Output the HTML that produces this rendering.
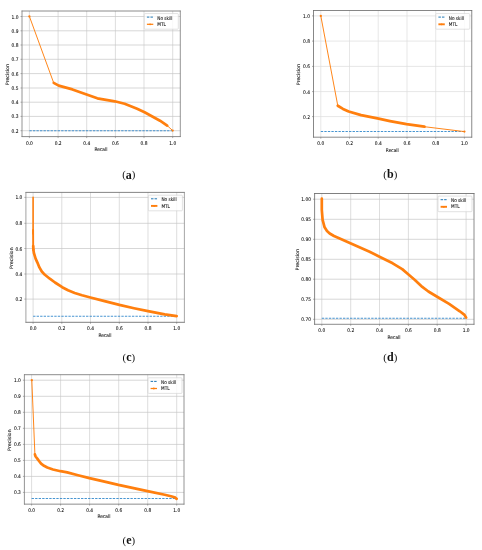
<!DOCTYPE html>
<html><head><meta charset="utf-8"><title>Precision-Recall curves</title>
<style>html,body{margin:0;padding:0;background:#fff}body{width:482px;height:550px;overflow:hidden}</style></head>
<body>
<svg width="482" height="550" viewBox="0 0 482 550" style="display:block">
<rect width="482" height="550" fill="#fff"/>
<g font-family="DejaVu Sans, Liberation Sans, sans-serif" font-size="4.55" fill="#1a1a1a" stroke="#1a1a1a" stroke-width="0.1">
<path d="M29.4 11.0V136.6M58.1 11.0V136.6M86.7 11.0V136.6M115.4 11.0V136.6M144.0 11.0V136.6M172.7 11.0V136.6" stroke="#d0d0d0" stroke-width="0.7" fill="none"/>
<path d="M22.0 16.5H180.3M22.0 30.8H180.3M22.0 45.0H180.3M22.0 59.3H180.3M22.0 73.6H180.3M22.0 88.0H180.3M22.0 102.2H180.3M22.0 116.4H180.3M22.0 130.7H180.3" stroke="#c6c6c6" stroke-width="0.7" fill="none"/>
<path d="M29.4 130.7H172.7" stroke="#2d86cb" stroke-width="1.05" stroke-opacity="0.88" stroke-dasharray="2.35 1.18" fill="none"/>
<polyline points="29.4,16.4 53.7,82.9" stroke="#ff7f0e" stroke-width="0.95" fill="none"/>
<polyline points="167.2,125.6 172.7,130.6" stroke="#ff7f0e" stroke-width="0.95" fill="none"/>
<polyline points="53.7,82.9 58.7,85.6 72.4,89.4 86.6,94.4 97.3,98.3 114.7,101.3 124.6,103.8 137.1,108.8 144.6,112.3 160.0,120.7 167.2,125.6" stroke="#ff7f0e" stroke-width="2.7" stroke-linejoin="round" stroke-linecap="round" fill="none"/>
<circle cx="29.4" cy="16.4" r="1.15" fill="#ff7f0e" stroke="none"/>
<circle cx="172.7" cy="130.6" r="1.15" fill="#ff7f0e" stroke="none"/>
<path d="M29.4 136.6v1.5M58.1 136.6v1.5M86.7 136.6v1.5M115.4 136.6v1.5M144.0 136.6v1.5M172.7 136.6v1.5M22.0 16.5h-1.5M22.0 30.8h-1.5M22.0 45.0h-1.5M22.0 59.3h-1.5M22.0 73.6h-1.5M22.0 88.0h-1.5M22.0 102.2h-1.5M22.0 116.4h-1.5M22.0 130.7h-1.5" stroke="#7a7a7a" stroke-width="0.6" fill="none"/>
<path d="M21.60 11.00H180.70" stroke="#6e6e6e" stroke-width="0.8" fill="none"/>
<path d="M21.60 136.60H180.70" stroke="#6e6e6e" stroke-width="0.8" fill="none"/>
<path d="M22.00 10.60V137.00" stroke="#7a7a7a" stroke-width="0.8" fill="none"/>
<path d="M180.30 10.60V137.00" stroke="#7a7a7a" stroke-width="0.8" fill="none"/>
<text transform="translate(29.4 144.5) scale(0.96 1.09)" text-anchor="middle">0.0</text>
<text transform="translate(58.1 144.5) scale(0.96 1.09)" text-anchor="middle">0.2</text>
<text transform="translate(86.7 144.5) scale(0.96 1.09)" text-anchor="middle">0.4</text>
<text transform="translate(115.4 144.5) scale(0.96 1.09)" text-anchor="middle">0.6</text>
<text transform="translate(144.0 144.5) scale(0.96 1.09)" text-anchor="middle">0.8</text>
<text transform="translate(172.7 144.5) scale(0.96 1.09)" text-anchor="middle">1.0</text>
<text transform="translate(18.4 18.5) scale(0.96 1.09)" text-anchor="end">1.0</text>
<text transform="translate(18.4 32.8) scale(0.96 1.09)" text-anchor="end">0.9</text>
<text transform="translate(18.4 47.0) scale(0.96 1.09)" text-anchor="end">0.8</text>
<text transform="translate(18.4 61.3) scale(0.96 1.09)" text-anchor="end">0.7</text>
<text transform="translate(18.4 75.6) scale(0.96 1.09)" text-anchor="end">0.6</text>
<text transform="translate(18.4 90.0) scale(0.96 1.09)" text-anchor="end">0.5</text>
<text transform="translate(18.4 104.2) scale(0.96 1.09)" text-anchor="end">0.4</text>
<text transform="translate(18.4 118.4) scale(0.96 1.09)" text-anchor="end">0.3</text>
<text transform="translate(18.4 132.7) scale(0.96 1.09)" text-anchor="end">0.2</text>
<text transform="translate(100.9 150.9) scale(0.96 1.09)" text-anchor="middle">Recall</text>
<text transform="translate(8.8 74.6) rotate(-90) scale(1.06 1.0)" text-anchor="middle">Precision</text>
<rect x="144.3" y="13.6" width="34" height="15.6" rx="0.8" fill="#fff" fill-opacity="0.8" stroke="#cfcfcf" stroke-width="0.6"/>
<path d="M146.9 17.1h6.4" stroke="#1f77b4" stroke-width="1" stroke-dasharray="2.5 1.05"/>
<path d="M146.9 24.3h6.4" stroke="#ff7f0e" stroke-width="1.25"/>
<circle cx="150.1" cy="24.3" r="0.9" fill="#ff7f0e" stroke="none"/>
<text transform="translate(157.3 19.6) scale(0.93 1.09)">No skill</text>
<text transform="translate(157.3 25.9) scale(0.93 1.09)">MTL</text>
</g>
<text x="128.8" y="178.6" text-anchor="middle" font-family="Liberation Serif, DejaVu Serif, serif" font-weight="bold" font-size="12" fill="#111"><tspan font-weight="normal" font-size="10.8" dy="-0.4">(</tspan><tspan dy="0.4">a</tspan><tspan font-weight="normal" font-size="10.8" dy="-0.4">)</tspan></text>
<g font-family="DejaVu Sans, Liberation Sans, sans-serif" font-size="4.55" fill="#1a1a1a" stroke="#1a1a1a" stroke-width="0.1">
<path d="M320.8 10.5V137.2M349.5 10.5V137.2M378.2 10.5V137.2M407.0 10.5V137.2M435.7 10.5V137.2M464.4 10.5V137.2" stroke="#dddddd" stroke-width="0.7" fill="none"/>
<path d="M313.5 15.9H471.8M313.5 41.1H471.8M313.5 66.4H471.8M313.5 91.6H471.8M313.5 116.6H471.8" stroke="#dddddd" stroke-width="0.7" fill="none"/>
<path d="M320.8 131.4H464.4" stroke="#2d86cb" stroke-width="1.05" stroke-opacity="0.88" stroke-dasharray="2.35 1.18" fill="none"/>
<polyline points="320.8,15.9 337.8,105.8" stroke="#ff7f0e" stroke-width="0.95" fill="none"/>
<polyline points="424.4,126.7 464.4,131.6" stroke="#ff7f0e" stroke-width="0.95" fill="none"/>
<polyline points="337.8,105.8 343.0,108.9 348.7,111.5 361.1,115.2 378.6,118.7 390.0,121.1 406.5,124.2 424.4,126.7" stroke="#ff7f0e" stroke-width="2.8" stroke-linejoin="round" stroke-linecap="round" fill="none"/>
<circle cx="320.8" cy="15.9" r="1.15" fill="#ff7f0e" stroke="none"/>
<circle cx="464.4" cy="131.6" r="1.15" fill="#ff7f0e" stroke="none"/>
<path d="M320.8 137.2v1.5M349.5 137.2v1.5M378.2 137.2v1.5M407.0 137.2v1.5M435.7 137.2v1.5M464.4 137.2v1.5M313.5 15.9h-1.5M313.5 41.1h-1.5M313.5 66.4h-1.5M313.5 91.6h-1.5M313.5 116.6h-1.5" stroke="#7a7a7a" stroke-width="0.6" fill="none"/>
<path d="M313.10 10.50H472.15" stroke="#686868" stroke-width="0.8" fill="none"/>
<path d="M313.10 137.20H472.15" stroke="#6e6e6e" stroke-width="0.8" fill="none"/>
<path d="M313.50 10.10V137.60" stroke="#686868" stroke-width="0.8" fill="none"/>
<path d="M471.75 10.10V137.60" stroke="#6a6a6a" stroke-width="0.8" fill="none"/>
<text transform="translate(320.8 145.1) scale(0.96 1.09)" text-anchor="middle">0.0</text>
<text transform="translate(349.5 145.1) scale(0.96 1.09)" text-anchor="middle">0.2</text>
<text transform="translate(378.2 145.1) scale(0.96 1.09)" text-anchor="middle">0.4</text>
<text transform="translate(407.0 145.1) scale(0.96 1.09)" text-anchor="middle">0.6</text>
<text transform="translate(435.7 145.1) scale(0.96 1.09)" text-anchor="middle">0.8</text>
<text transform="translate(464.4 145.1) scale(0.96 1.09)" text-anchor="middle">1.0</text>
<text transform="translate(309.9 17.9) scale(0.96 1.09)" text-anchor="end">1.0</text>
<text transform="translate(309.9 43.1) scale(0.96 1.09)" text-anchor="end">0.8</text>
<text transform="translate(309.9 68.4) scale(0.96 1.09)" text-anchor="end">0.6</text>
<text transform="translate(309.9 93.6) scale(0.96 1.09)" text-anchor="end">0.4</text>
<text transform="translate(309.9 118.6) scale(0.96 1.09)" text-anchor="end">0.2</text>
<text transform="translate(392.3 151.5) scale(0.96 1.09)" text-anchor="middle">Recall</text>
<text transform="translate(300.3 74.6) rotate(-90) scale(1.06 1.0)" text-anchor="middle">Precision</text>
<rect x="435.8" y="13.6" width="34" height="15.6" rx="0.8" fill="#fff" fill-opacity="0.8" stroke="#cfcfcf" stroke-width="0.6"/>
<path d="M438.4 17.1h6.4" stroke="#1f77b4" stroke-width="1" stroke-dasharray="2.5 1.05"/>
<path d="M438.4 24.3h6.4" stroke="#ff7f0e" stroke-width="1.90"/>
<circle cx="441.6" cy="24.3" r="0.9" fill="#ff7f0e" stroke="none"/>
<text transform="translate(448.8 19.6) scale(0.93 1.09)">No skill</text>
<text transform="translate(448.8 25.9) scale(0.93 1.09)">MTL</text>
</g>
<text x="390.3" y="178.4" text-anchor="middle" font-family="Liberation Serif, DejaVu Serif, serif" font-weight="bold" font-size="12" fill="#111"><tspan font-weight="normal" font-size="10.8" dy="-0.4">(</tspan><tspan dy="0.4">b</tspan><tspan font-weight="normal" font-size="10.8" dy="-0.4">)</tspan></text>
<g font-family="DejaVu Sans, Liberation Sans, sans-serif" font-size="4.55" fill="#1a1a1a" stroke="#1a1a1a" stroke-width="0.1">
<path d="M33.1 192.4V322.3M61.8 192.4V322.3M90.5 192.4V322.3M119.3 192.4V322.3M148.0 192.4V322.3M176.7 192.4V322.3" stroke="#d0d0d0" stroke-width="0.7" fill="none"/>
<path d="M25.9 197.4H184.4M25.9 223.3H184.4M25.9 248.5H184.4M25.9 274.0H184.4M25.9 299.1H184.4" stroke="#c6c6c6" stroke-width="0.7" fill="none"/>
<path d="M33.1 316.3H176.7" stroke="#2d86cb" stroke-width="1.05" stroke-opacity="0.88" stroke-dasharray="2.35 1.18" fill="none"/>
<polyline points="33.2,246.0 33.4,249.7 33.9,253.0 35.6,258.6 37.4,262.6 39.4,267.4 41.8,271.5 44.9,274.8 49.8,278.7 55.0,282.5 62.2,287.2 68.0,290.3 74.7,293.0 82.0,295.3 90.4,297.5 104.6,301.1 119.4,304.9 134.0,308.2 148.0,311.1 164.7,314.3 176.7,316.1" stroke="#ff7f0e" stroke-width="2.7" stroke-linejoin="round" stroke-linecap="round" fill="none"/>
<polyline points="33.1,197.4 33.1,234.0" stroke="#ff7f0e" stroke-width="1.6" stroke-linejoin="round" stroke-linecap="round" fill="none"/>
<polyline points="33.1,230.0 33.2,250.0" stroke="#ff7f0e" stroke-width="1.9" stroke-linejoin="round" stroke-linecap="round" fill="none"/>
<path d="M33.1 322.3v1.5M61.8 322.3v1.5M90.5 322.3v1.5M119.3 322.3v1.5M148.0 322.3v1.5M176.7 322.3v1.5M25.9 197.4h-1.5M25.9 223.3h-1.5M25.9 248.5h-1.5M25.9 274.0h-1.5M25.9 299.1h-1.5" stroke="#7a7a7a" stroke-width="0.6" fill="none"/>
<path d="M25.50 192.40H184.80" stroke="#666" stroke-width="0.8" fill="none"/>
<path d="M25.50 322.30H184.80" stroke="#606060" stroke-width="0.8" fill="none"/>
<path d="M25.90 192.00V322.70" stroke="#8c8c8c" stroke-width="0.8" fill="none"/>
<path d="M184.40 192.00V322.70" stroke="#909090" stroke-width="0.8" fill="none"/>
<text transform="translate(33.1 330.2) scale(0.96 1.09)" text-anchor="middle">0.0</text>
<text transform="translate(61.8 330.2) scale(0.96 1.09)" text-anchor="middle">0.2</text>
<text transform="translate(90.5 330.2) scale(0.96 1.09)" text-anchor="middle">0.4</text>
<text transform="translate(119.3 330.2) scale(0.96 1.09)" text-anchor="middle">0.6</text>
<text transform="translate(148.0 330.2) scale(0.96 1.09)" text-anchor="middle">0.8</text>
<text transform="translate(176.7 330.2) scale(0.96 1.09)" text-anchor="middle">1.0</text>
<text transform="translate(22.3 199.4) scale(0.96 1.09)" text-anchor="end">1.0</text>
<text transform="translate(22.3 225.3) scale(0.96 1.09)" text-anchor="end">0.8</text>
<text transform="translate(22.3 250.5) scale(0.96 1.09)" text-anchor="end">0.6</text>
<text transform="translate(22.3 276.0) scale(0.96 1.09)" text-anchor="end">0.4</text>
<text transform="translate(22.3 301.1) scale(0.96 1.09)" text-anchor="end">0.2</text>
<text transform="translate(104.9 336.6) scale(0.96 1.09)" text-anchor="middle">Recall</text>
<text transform="translate(12.7 258.2) rotate(-90) scale(1.06 1.0)" text-anchor="middle">Precision</text>
<rect x="148.4" y="195.2" width="34" height="15.6" rx="0.8" fill="#fff" fill-opacity="0.8" stroke="#cfcfcf" stroke-width="0.6"/>
<path d="M151.0 198.8h6.4" stroke="#1f77b4" stroke-width="1" stroke-dasharray="2.5 1.05"/>
<path d="M151.0 205.9h6.4" stroke="#ff7f0e" stroke-width="1.90"/>
<circle cx="154.2" cy="205.9" r="0.9" fill="#ff7f0e" stroke="none"/>
<text transform="translate(161.4 201.2) scale(0.93 1.09)">No skill</text>
<text transform="translate(161.4 207.5) scale(0.93 1.09)">MTL</text>
</g>
<text x="128.8" y="361.2" text-anchor="middle" font-family="Liberation Serif, DejaVu Serif, serif" font-weight="bold" font-size="12" fill="#111"><tspan font-weight="normal" font-size="10.8" dy="-0.4">(</tspan><tspan dy="0.4">c</tspan><tspan font-weight="normal" font-size="10.8" dy="-0.4">)</tspan></text>
<g font-family="DejaVu Sans, Liberation Sans, sans-serif" font-size="4.55" fill="#1a1a1a" stroke="#1a1a1a" stroke-width="0.1">
<path d="M321.8 193.5V324.3M350.7 193.5V324.3M379.5 193.5V324.3M408.4 193.5V324.3M437.2 193.5V324.3M466.1 193.5V324.3" stroke="#d0d0d0" stroke-width="0.7" fill="none"/>
<path d="M314.6 199.2H474.0M314.6 219.3H474.0M314.6 239.3H474.0M314.6 259.3H474.0M314.6 279.2H474.0M314.6 299.2H474.0M314.6 319.3H474.0" stroke="#c6c6c6" stroke-width="0.7" fill="none"/>
<path d="M321.8 318.3H466.1" stroke="#2d86cb" stroke-width="1.05" stroke-opacity="0.88" stroke-dasharray="2.35 1.18" fill="none"/>
<polyline points="321.8,198.7 321.8,209.9 322.6,219.9 324.6,227.3 327.0,231.0 329.7,233.5 334.0,236.0 339.7,238.5 350.4,243.3 369.6,251.7 380.0,257.0 392.7,263.3 402.2,269.1 408.5,274.5 414.9,280.0 422.3,286.9 428.4,291.5 436.7,296.5 449.1,303.9 459.8,311.3 464.5,314.9 466.1,317.6" stroke="#ff7f0e" stroke-width="2.7" stroke-linejoin="round" stroke-linecap="round" fill="none"/>
<path d="M321.8 324.3v1.5M350.7 324.3v1.5M379.5 324.3v1.5M408.4 324.3v1.5M437.2 324.3v1.5M466.1 324.3v1.5M314.6 199.2h-1.5M314.6 219.3h-1.5M314.6 239.3h-1.5M314.6 259.3h-1.5M314.6 279.2h-1.5M314.6 299.2h-1.5M314.6 319.3h-1.5" stroke="#7a7a7a" stroke-width="0.6" fill="none"/>
<path d="M314.20 193.50H474.40" stroke="#606060" stroke-width="0.8" fill="none"/>
<path d="M314.20 324.30H474.40" stroke="#6e6e6e" stroke-width="0.8" fill="none"/>
<path d="M314.60 193.10V324.70" stroke="#666" stroke-width="0.8" fill="none"/>
<path d="M474.00 193.10V324.70" stroke="#6e6e6e" stroke-width="0.8" fill="none"/>
<text transform="translate(321.8 332.2) scale(0.96 1.09)" text-anchor="middle">0.0</text>
<text transform="translate(350.7 332.2) scale(0.96 1.09)" text-anchor="middle">0.2</text>
<text transform="translate(379.5 332.2) scale(0.96 1.09)" text-anchor="middle">0.4</text>
<text transform="translate(408.4 332.2) scale(0.96 1.09)" text-anchor="middle">0.6</text>
<text transform="translate(437.2 332.2) scale(0.96 1.09)" text-anchor="middle">0.8</text>
<text transform="translate(466.1 332.2) scale(0.96 1.09)" text-anchor="middle">1.0</text>
<text transform="translate(311.0 201.2) scale(0.96 1.09)" text-anchor="end">1.00</text>
<text transform="translate(311.0 221.3) scale(0.96 1.09)" text-anchor="end">0.95</text>
<text transform="translate(311.0 241.3) scale(0.96 1.09)" text-anchor="end">0.90</text>
<text transform="translate(311.0 261.3) scale(0.96 1.09)" text-anchor="end">0.85</text>
<text transform="translate(311.0 281.2) scale(0.96 1.09)" text-anchor="end">0.80</text>
<text transform="translate(311.0 301.2) scale(0.96 1.09)" text-anchor="end">0.75</text>
<text transform="translate(311.0 321.3) scale(0.96 1.09)" text-anchor="end">0.70</text>
<text transform="translate(394.0 338.6) scale(0.96 1.09)" text-anchor="middle">Recall</text>
<text transform="translate(298.8 259.7) rotate(-90) scale(1.06 1.0)" text-anchor="middle">Precision</text>
<rect x="438.0" y="196.1" width="34" height="15.6" rx="0.8" fill="#fff" fill-opacity="0.8" stroke="#cfcfcf" stroke-width="0.6"/>
<path d="M440.6 199.7h6.4" stroke="#1f77b4" stroke-width="1" stroke-dasharray="2.5 1.05"/>
<path d="M440.6 206.8h6.4" stroke="#ff7f0e" stroke-width="1.90"/>
<circle cx="443.8" cy="206.8" r="0.9" fill="#ff7f0e" stroke="none"/>
<text transform="translate(451.0 202.1) scale(0.93 1.09)">No skill</text>
<text transform="translate(451.0 208.4) scale(0.93 1.09)">MTL</text>
</g>
<text x="390.3" y="361.2" text-anchor="middle" font-family="Liberation Serif, DejaVu Serif, serif" font-weight="bold" font-size="12" fill="#111"><tspan font-weight="normal" font-size="10.8" dy="-0.4">(</tspan><tspan dy="0.4">d</tspan><tspan font-weight="normal" font-size="10.8" dy="-0.4">)</tspan></text>
<g font-family="DejaVu Sans, Liberation Sans, sans-serif" font-size="4.55" fill="#1a1a1a" stroke="#1a1a1a" stroke-width="0.1">
<path d="M31.6 374.7V504.1M60.6 374.7V504.1M89.6 374.7V504.1M118.7 374.7V504.1M147.7 374.7V504.1M176.7 374.7V504.1" stroke="#d0d0d0" stroke-width="0.7" fill="none"/>
<path d="M24.4 380.2H184.0M24.4 396.3H184.0M24.4 412.3H184.0M24.4 428.3H184.0M24.4 444.4H184.0M24.4 460.4H184.0M24.4 476.4H184.0M24.4 492.4H184.0" stroke="#c6c6c6" stroke-width="0.7" fill="none"/>
<path d="M31.6 498.5H176.7" stroke="#2d86cb" stroke-width="1.05" stroke-opacity="0.88" stroke-dasharray="2.35 1.18" fill="none"/>
<polyline points="31.8,380.2 34.9,454.3" stroke="#ff7f0e" stroke-width="0.95" fill="none"/>
<polyline points="34.9,454.3 35.6,456.5 37.3,458.6 39.0,461.0 41.1,463.7 44.0,465.8 47.3,467.5 53.0,469.5 60.5,471.2 67.2,472.4 78.0,475.2 89.4,478.1 104.6,481.6 118.4,484.9 147.5,491.1 164.7,494.8 171.0,496.2 174.5,497.2 176.7,498.8" stroke="#ff7f0e" stroke-width="2.7" stroke-linejoin="round" stroke-linecap="round" fill="none"/>
<circle cx="31.8" cy="380.2" r="1.15" fill="#ff7f0e" stroke="none"/>
<path d="M31.6 504.1v1.5M60.6 504.1v1.5M89.6 504.1v1.5M118.7 504.1v1.5M147.7 504.1v1.5M176.7 504.1v1.5M24.4 380.2h-1.5M24.4 396.3h-1.5M24.4 412.3h-1.5M24.4 428.3h-1.5M24.4 444.4h-1.5M24.4 460.4h-1.5M24.4 476.4h-1.5M24.4 492.4h-1.5" stroke="#7a7a7a" stroke-width="0.6" fill="none"/>
<path d="M24.00 374.70H184.40" stroke="#6e6e6e" stroke-width="0.8" fill="none"/>
<path d="M24.00 504.15H184.40" stroke="#6e6e6e" stroke-width="0.8" fill="none"/>
<path d="M24.40 374.30V504.55" stroke="#7a7a7a" stroke-width="0.8" fill="none"/>
<path d="M184.00 374.30V504.55" stroke="#7a7a7a" stroke-width="0.8" fill="none"/>
<text transform="translate(31.6 512.0) scale(0.96 1.09)" text-anchor="middle">0.0</text>
<text transform="translate(60.6 512.0) scale(0.96 1.09)" text-anchor="middle">0.2</text>
<text transform="translate(89.6 512.0) scale(0.96 1.09)" text-anchor="middle">0.4</text>
<text transform="translate(118.7 512.0) scale(0.96 1.09)" text-anchor="middle">0.6</text>
<text transform="translate(147.7 512.0) scale(0.96 1.09)" text-anchor="middle">0.8</text>
<text transform="translate(176.7 512.0) scale(0.96 1.09)" text-anchor="middle">1.0</text>
<text transform="translate(20.8 382.2) scale(0.96 1.09)" text-anchor="end">1.0</text>
<text transform="translate(20.8 398.3) scale(0.96 1.09)" text-anchor="end">0.9</text>
<text transform="translate(20.8 414.3) scale(0.96 1.09)" text-anchor="end">0.8</text>
<text transform="translate(20.8 430.3) scale(0.96 1.09)" text-anchor="end">0.7</text>
<text transform="translate(20.8 446.4) scale(0.96 1.09)" text-anchor="end">0.6</text>
<text transform="translate(20.8 462.4) scale(0.96 1.09)" text-anchor="end">0.5</text>
<text transform="translate(20.8 478.4) scale(0.96 1.09)" text-anchor="end">0.4</text>
<text transform="translate(20.8 494.4) scale(0.96 1.09)" text-anchor="end">0.3</text>
<text transform="translate(103.9 518.4) scale(0.96 1.09)" text-anchor="middle">Recall</text>
<text transform="translate(11.2 440.2) rotate(-90) scale(1.06 1.0)" text-anchor="middle">Precision</text>
<rect x="148.0" y="377.8" width="34" height="15.6" rx="0.8" fill="#fff" fill-opacity="0.8" stroke="#cfcfcf" stroke-width="0.6"/>
<path d="M150.6 381.4h6.4" stroke="#1f77b4" stroke-width="1" stroke-dasharray="2.5 1.05"/>
<path d="M150.6 388.5h6.4" stroke="#ff7f0e" stroke-width="1.25"/>
<circle cx="153.8" cy="388.5" r="0.9" fill="#ff7f0e" stroke="none"/>
<text transform="translate(161.0 383.8) scale(0.93 1.09)">No skill</text>
<text transform="translate(161.0 390.1) scale(0.93 1.09)">MTL</text>
</g>
<text x="128.8" y="544.0" text-anchor="middle" font-family="Liberation Serif, DejaVu Serif, serif" font-weight="bold" font-size="12" fill="#111"><tspan font-weight="normal" font-size="10.8" dy="-0.4">(</tspan><tspan dy="0.4">e</tspan><tspan font-weight="normal" font-size="10.8" dy="-0.4">)</tspan></text>
</svg>
</body></html>
